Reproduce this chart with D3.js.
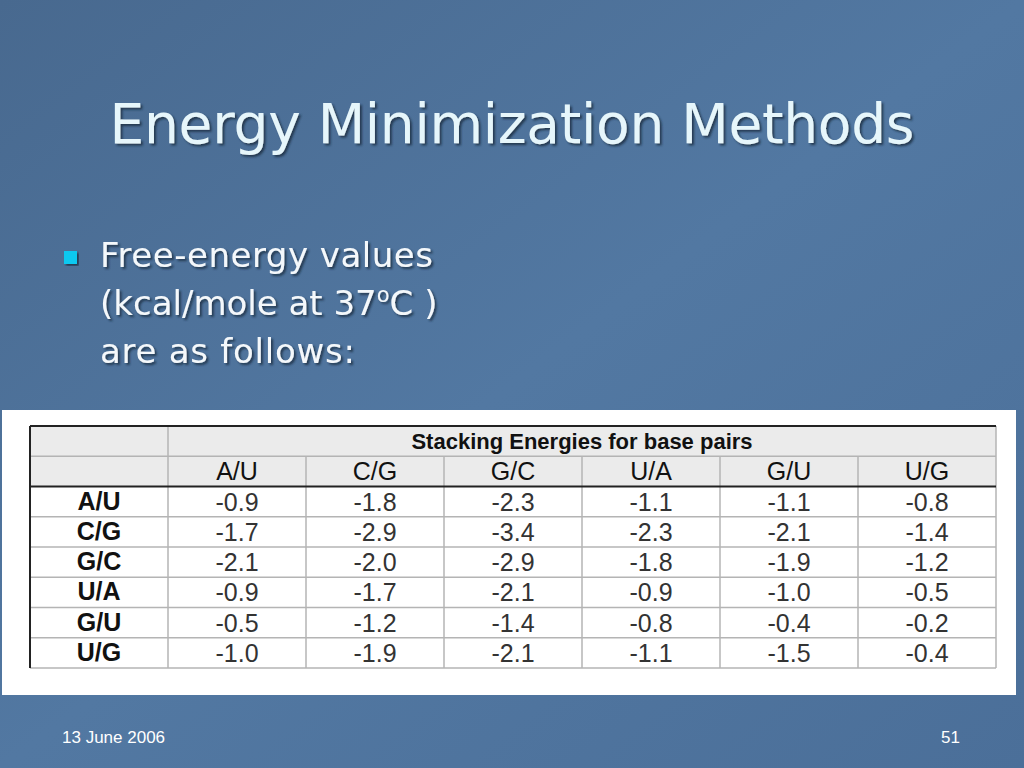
<!DOCTYPE html><html><head><meta charset="utf-8">
<script src="https://cdn.jsdelivr.net/npm/d3@7"></script>
<style>body{margin:0;overflow:hidden}</style></head><body>
<script>
const title = "Energy Minimization Methods";
const bulletLines = ["Free-energy values", "(kcal/mole at 37", "are as follows:"];
const tableTitle = "Stacking Energies for base pairs";
const colPairs = ["A/U","C/G","G/C","U/A","G/U","U/G"];
const rowPairs = ["A/U","C/G","G/C","U/A","G/U","U/G"];
const values = [
 [-0.9,-1.8,-2.3,-1.1,-1.1,-0.8],
 [-1.7,-2.9,-3.4,-2.3,-2.1,-1.4],
 [-2.1,-2.0,-2.9,-1.8,-1.9,-1.2],
 [-0.9,-1.7,-2.1,-0.9,-1.0,-0.5],
 [-0.5,-1.2,-1.4,-0.8,-0.4,-0.2],
 [-1.0,-1.9,-2.1,-1.1,-1.5,-0.4]];
const footerDate = "13 June 2006", pageNum = "51";

const svg = d3.select("body").append("svg").attr("width",1024).attr("height",768);
const defs = svg.append("defs");
const g = defs.append("linearGradient").attr("id","bg").attr("x1",0).attr("y1",0).attr("x2",1).attr("y2",1);
g.append("stop").attr("offset",0).attr("stop-color","#48698f");
g.append("stop").attr("offset",0.5).attr("stop-color","#5278a2");
g.append("stop").attr("offset",1).attr("stop-color","#4b6f99");
const sh = defs.append("filter").attr("id","sh");
sh.append("feDropShadow").attr("dx",2).attr("dy",2).attr("stdDeviation",1).attr("flood-color","#1a2a40").attr("flood-opacity",0.8);
svg.append("rect").attr("width",1024).attr("height",768).attr("fill","url(#bg)");

const font = "Tahoma, 'DejaVu Sans', Verdana, sans-serif";
svg.append("text").attr("x",512).attr("y",143).attr("text-anchor","middle").attr("font-family",font)
  .attr("font-size",55).attr("textLength",805).attr("fill","#e6f6fb").attr("filter","url(#sh)").text(title);
svg.append("rect").attr("x",64).attr("y",251).attr("width",13).attr("height",13).attr("fill","#10c8f0").attr("filter","url(#sh)");
const bt = svg.append("g").attr("font-family",font).attr("font-size",34).attr("fill","#f4f8fb").attr("filter","url(#sh)");
bt.append("text").attr("x",100).attr("y",267).attr("textLength",333).text(bulletLines[0]);
const l2 = bt.append("text").attr("x",100).attr("y",315);
l2.append("tspan").text(bulletLines[1]);
l2.append("tspan").attr("font-size",21).attr("dy",-13).text("o");
l2.append("tspan").attr("dy",13).text("C )");
bt.append("text").attr("x",100).attr("y",363).attr("textLength",255).text(bulletLines[2]);

svg.append("rect").attr("x",2).attr("y",410).attr("width",1014).attr("height",285).attr("fill","#fff");

const cx = d3.scaleBand().domain(colPairs).range([168,996]);
const y = d3.scaleBand().domain(["t","h",...rowPairs]).range([426,668]);
const tf = "Arial, 'Liberation Sans', sans-serif";
const T = svg.append("g");
T.append("rect").attr("x",30).attr("y",y("t")).attr("width",966).attr("height",y.bandwidth()*2).attr("fill","#ebebeb");
const grid = T.append("g").attr("stroke","#b4b4b4").attr("stroke-width",1.5);
rowPairs.slice(1).forEach(r=>grid.append("line").attr("x1",30).attr("x2",996).attr("y1",y(r)).attr("y2",y(r)));
grid.append("line").attr("x1",30).attr("x2",996).attr("y1",y("h")).attr("y2",y("h"));
colPairs.slice(1).forEach(c=>grid.append("line").attr("x1",cx(c)).attr("x2",cx(c)).attr("y1",y("h")).attr("y2",668));
grid.append("line").attr("x1",168).attr("x2",168).attr("y1",426).attr("y2",668);
grid.append("line").attr("x1",996).attr("x2",996).attr("y1",426).attr("y2",668);
grid.append("line").attr("x1",30).attr("x2",996).attr("y1",668).attr("y2",668);
T.append("line").attr("x1",30).attr("x2",996).attr("y1",426).attr("y2",426).attr("stroke","#222").attr("stroke-width",2);
T.append("line").attr("x1",30).attr("x2",996).attr("y1",y(rowPairs[0])).attr("y2",y(rowPairs[0])).attr("stroke","#222").attr("stroke-width",2);
T.append("line").attr("x1",30).attr("x2",30).attr("y1",426).attr("y2",668).attr("stroke","#222").attr("stroke-width",2);

T.append("text").attr("x",582).attr("y",y("t")+y.bandwidth()/2+8).attr("text-anchor","middle")
 .attr("font-family",tf).attr("font-size",22).attr("font-weight","bold").attr("fill","#111").text(tableTitle);
colPairs.forEach(c=>T.append("text").attr("x",cx(c)+cx.bandwidth()/2).attr("y",y("h")+y.bandwidth()/2+9)
 .attr("text-anchor","middle").attr("font-family",tf).attr("font-size",25).attr("fill","#111").text(c));
rowPairs.forEach((r,i)=>{
 T.append("text").attr("x",99).attr("y",y(r)+y.bandwidth()/2+8).attr("text-anchor","middle")
  .attr("font-family",tf).attr("font-size",25).attr("font-weight","bold").attr("fill","#111").text(r);
 values[i].forEach((v,j)=>T.append("text").attr("x",cx(colPairs[j])+cx.bandwidth()/2).attr("y",y(r)+y.bandwidth()/2+9)
  .attr("text-anchor","middle").attr("font-family",tf).attr("font-size",25).attr("fill","#333").text(v.toFixed(1)));
});
svg.append("text").attr("x",62).attr("y",743).attr("font-family",tf).attr("font-size",17).attr("fill","#fff").text(footerDate);
svg.append("text").attr("x",960).attr("y",743).attr("text-anchor","end").attr("font-family",tf).attr("font-size",17).attr("fill","#fff").text(pageNum);
</script></body></html>
